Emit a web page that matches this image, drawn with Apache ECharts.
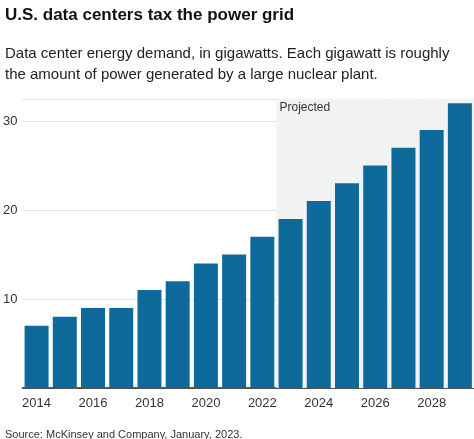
<!DOCTYPE html>
<html><head><meta charset="utf-8">
<script src="https://cdn.jsdelivr.net/npm/echarts@6/dist/echarts.min.js"></script>
<style>body{margin:0}#c{width:474px;height:439px}</style></head>
<body><div id="c"></div>
<script>
const years = ['2014','2015','2016','2017','2018','2019','2020','2021','2022','2023','2024','2025','2026','2027','2028','2029'];
const demand = [7,8,9,9,11,12,14,15,17,19,21,23,25,27,29,32];
const projectedFrom = '2023';
const yTicks = [10,20,30];
const yMax = 32.5;
const pi = years.indexOf(projectedFrom);
const shade = years.map((y,i)=> i>=pi ? yMax : null);
const chart = echarts.init(document.getElementById('c'));
const font = 'Franklin Gothic, "Liberation Sans", Arial, sans-serif';
chart.setOption({
  animation:false,
  title:[
    {text:'U.S. data centers tax the power grid',left:0,top:2,textStyle:{fontFamily:font,fontSize:17,fontWeight:'bold',color:'#111'}},
    {text:'Data center energy demand, in gigawatts. Each gigawatt is roughly\nthe amount of power generated by a large nuclear plant.',left:0,top:38,textStyle:{fontFamily:font,fontSize:15,fontWeight:'normal',color:'#222',lineHeight:21}},
    {text:'Source: McKinsey and Company, January, 2023.',left:0,top:424,textStyle:{fontFamily:font,fontSize:11,fontWeight:'normal',color:'#333'}}
  ],
  grid:{left:22,right:0,top:388-yMax*8.9,bottom:439-388,containLabel:false},
  xAxis:[
    {type:'category',data:years,axisTick:{show:false},axisLine:{lineStyle:{color:'#222',width:1.5}},
     axisLabel:{interval:1,color:'#333',fontFamily:font,fontSize:13,margin:9}},
    {type:'category',data:years,show:false}
  ],
  yAxis:{type:'value',min:0,max:yMax,interval:10,axisLine:{show:false},axisTick:{show:false},
    splitLine:{lineStyle:{color:'#e2e2e2'}},
    axisLabel:{color:'#333',fontFamily:font,fontSize:13,margin:5,
      formatter:v=> yTicks.includes(v)? String(v):''}},
  series:[
    {type:'bar',xAxisIndex:1,data:shade,barCategoryGap:0,barWidth:'100%',itemStyle:{color:'#f1f2f2'},z:1,silent:true,
     label:{show:true,position:'insideTopLeft',distance:3,color:'#333',fontFamily:font,fontSize:12,
       formatter:p=> p.dataIndex===pi?'Projected':''}},
    {type:'bar',data:demand,barWidth:24,itemStyle:{color:'#0f6a9c'},z:3}
  ]
});
</script></body></html>
